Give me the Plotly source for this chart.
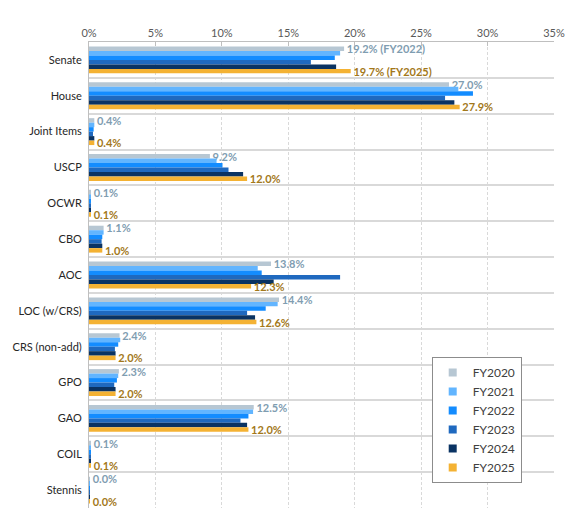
import plotly.graph_objects as go

# Share of Legislative Branch appropriations by agency (percent)
categories = ["Senate", "House", "Joint Items", "USCP", "OCWR", "CBO", "AOC",
              "LOC (w/CRS)", "CRS (non-add)", "GPO", "GAO", "COIL", "Stennis"]

years = ["FY2020", "FY2021", "FY2022", "FY2023", "FY2024", "FY2025"]

fy2020 = [19.2, 27.1, 0.4, 9.1, 0.1, 1.1, 13.7, 14.3, 2.3, 2.25, 12.4, 0.1, 0.03]
fy2021 = [18.9, 27.8, 0.4, 9.6, 0.1, 1.1, 12.7, 14.2, 2.35, 2.2, 12.35, 0.1, 0.03]
fy2022 = [18.5, 28.9, 0.35, 10.05, 0.1, 1.0, 13.0, 13.3, 2.2, 2.1, 12.0, 0.1, 0.03]
fy2023 = [16.7, 26.8, 0.3, 10.5, 0.1, 0.95, 18.9, 11.9, 1.95, 1.9, 11.4, 0.1, 0.03]
fy2024 = [18.6, 27.5, 0.4, 11.6, 0.1, 1.0, 13.9, 12.5, 2.0, 2.0, 11.9, 0.1, 0.03]
fy2025 = [19.7, 27.9, 0.4, 11.9, 0.1, 1.0, 12.2, 12.6, 2.0, 2.0, 12.0, 0.1, 0.03]

top_labels = ["19.2% (FY2022)", "27.0%", "0.4%", "9.2%", "0.1%", "1.1%", "13.8%",
              "14.4%", "2.4%", "2.3%", "12.5%", "0.1%", "0.0%"]
bottom_labels = ["19.7% (FY2025)", "27.9%", "0.4%", "12.0%", "0.1%", "1.0%", "12.3%",
                 "12.6%", "2.0%", "2.0%", "12.0%", "0.1%", "0.0%"]

series = [fy2020, fy2021, fy2022, fy2023, fy2024, fy2025]
colors = ["#b7c7d3", "#62b5ff", "#138cff", "#1f69bf", "#0a3363", "#f4b233"]

FONT = "Lato, Open Sans, sans-serif"
PAD = "\u00a0"  # little gap between bar end and its label

fig = go.Figure()

for i, (name, vals, col) in enumerate(zip(years, series, colors)):
    text = None
    tcolor = "#7f9db1"
    if i == 0:
        text = [PAD + t for t in top_labels]
    elif i == len(years) - 1:
        text = [PAD + t for t in bottom_labels]
        tcolor = "#a3781a"
    fig.add_trace(go.Bar(
        name=name, x=vals, y=categories, orientation="h",
        marker=dict(color=col, line=dict(width=0)),
        text=text, textposition="outside" if text else "none",
        outsidetextfont=dict(family=FONT, size=11, color=tcolor, weight="bold"),
        constraintext="none", cliponaxis=False, showlegend=False,
    ))

# small square swatches for the legend
for name, col in zip(years, colors):
    fig.add_trace(go.Scatter(
        name=name, x=[None], y=[None], mode="markers",
        marker=dict(symbol="square", size=8, color=col),
        showlegend=True,
    ))

# the page body adds an 8px offset, margins account for it
fig.update_layout(
    width=576, height=531,
    margin=dict(l=81, r=30, t=34, b=31),
    paper_bgcolor="white", plot_bgcolor="white",
    barmode="group", bargap=0.25, bargroupgap=0,
    font=dict(family=FONT, size=12, color="#404040"),
    legend=dict(
        x=0.737, y=0.324, xanchor="left", yanchor="top",
        bgcolor="white", bordercolor="#8c8c8c", borderwidth=1,
        itemwidth=30,
        font=dict(family=FONT, size=12, color="#404040"),
    ),
)

fig.update_xaxes(
    side="top", range=[0, 35], dtick=5, ticksuffix="%",
    showgrid=True, gridcolor="#d9d9d9", griddash="3px,2px", gridwidth=1,
    showline=True, linecolor="#bfbfbf", linewidth=1,
    ticks="inside", ticklen=4, tickcolor="#bfbfbf",
    tickfont=dict(family=FONT, size=11, color="#595959"),
    zeroline=False, fixedrange=True, automargin=False,
)

fig.update_yaxes(
    categoryorder="array", categoryarray=categories, autorange="reversed",
    tickson="boundaries", ticks="",
    showgrid=True, gridcolor="#d9d9d9", gridwidth=1.5,
    showline=True, linecolor="#bfbfbf", linewidth=1,
    tickfont=dict(family=FONT, size=11, color="#262626"),
    ticklabelstandoff=4, fixedrange=True, automargin=False,
)

fig.write_html("out.html")
